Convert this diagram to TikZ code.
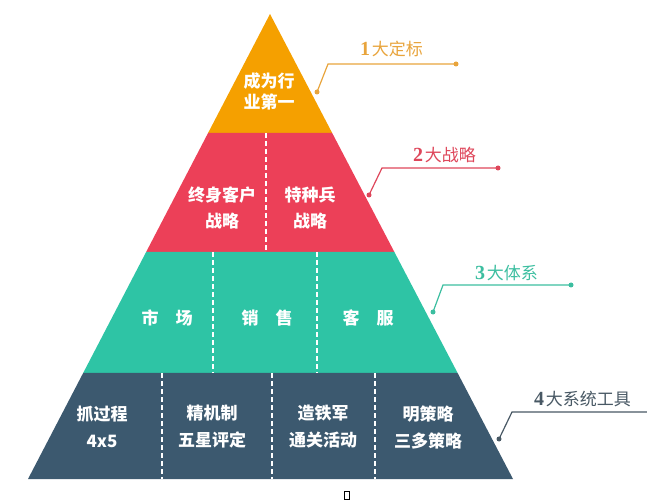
\documentclass[tikz,border=0pt]{standalone}
\usepackage{fontspec}
\setmainfont{Liberation Serif}
\newfontfamily\cjk{Noto Sans CJK SC}
\newfontfamily\lserif{Liberation Serif}
\usetikzlibrary{calc}
\definecolor{cOrange}{RGB}{245,160,0}
\definecolor{cRed}{RGB}{236,64,88}
\definecolor{cTeal}{RGB}{46,196,165}
\definecolor{cDark}{RGB}{60,89,111}
\definecolor{lOrange}{RGB}{232,164,60}
\definecolor{lRed}{RGB}{222,70,90}
\definecolor{lTeal}{RGB}{60,190,160}
\definecolor{lDark}{RGB}{72,88,100}
\tikzset{
  tiertext/.style={text=white, align=center, inner sep=0pt},
  divider/.style={white, line width=1.2pt, dash pattern=on 5pt off 3pt},
  leader/.style={line width=1.2pt},
  leaderdot/.style={circle, fill, inner sep=0pt, minimum size=5pt},
  lbl/.style={anchor=west, inner sep=0pt},
}
\newcommand{\lbltext}[2]{{\lserif\bfseries\fontsize{20}{20}\selectfont #1}\,{\cjk\fontsize{17}{17}\selectfont #2}}
\begin{document}
\begin{tikzpicture}[x=1pt,y=-1pt]
\useasboundingbox (0,0) rectangle (647,502);
\coordinate (apex) at (270,14);
\coordinate (bl) at (28,479);
\coordinate (br) at (513,479);
\coordinate (l1) at ($(apex)!0.2559!(bl)$);
\coordinate (r1) at ($(apex)!0.2559!(br)$);
\coordinate (l2) at ($(apex)!0.5118!(bl)$);
\coordinate (r2) at ($(apex)!0.5118!(br)$);
\coordinate (l3) at ($(apex)!0.7720!(bl)$);
\coordinate (r3) at ($(apex)!0.7720!(br)$);
% tiers
\fill[cOrange] (apex) -- (r1) -- (l1) -- cycle;
\fill[cRed] (l1) -- (r1) -- (r2) -- (l2) -- cycle;
\fill[cTeal] (l2) -- (r2) -- (r3) -- (l3) -- cycle;
\fill[cDark] (l3) -- (r3) -- (br) -- (bl) -- cycle;
% dividers
\draw[divider] (266,133) -- (266,252);
\draw[divider] (213,252) -- (213,373);
\draw[divider] (317,252) -- (317,373);
\draw[divider] (162,373) -- (162,479);
\draw[divider] (272,373) -- (272,479);
\draw[divider] (375,373) -- (375,479);
% tier texts
\begin{scope}[every node/.style={tiertext}]
\node[font=\cjk\bfseries\fontsize{17}{21}\selectfont] (t1) at (269,91) {成为行\\业第一};
\node[font=\cjk\bfseries\fontsize{17}{26}\selectfont] (t2a) at (222,208) {终身客户\\战略};
\node[font=\cjk\bfseries\fontsize{17}{26}\selectfont] (t2b) at (310,208) {特种兵\\战略};
\node[font=\cjk\bfseries\fontsize{17}{17}\selectfont] (t3a) at (167,318) {市\hspace{1em}场};
\node[font=\cjk\bfseries\fontsize{17}{17}\selectfont] (t3b) at (267,318) {销\hspace{1em}售};
\node[font=\cjk\bfseries\fontsize{17}{17}\selectfont] (t3c) at (368,318) {客\hspace{1em}服};
\node[font=\cjk\bfseries\fontsize{17}{27}\selectfont] (t4a) at (102,427) {抓过程\\4x5};
\node[font=\cjk\bfseries\fontsize{17}{27}\selectfont] (t4b) at (212,427) {精机制\\五星评定};
\node[font=\cjk\bfseries\fontsize{17}{27}\selectfont] (t4c) at (323,427) {造铁军\\通关活动};
\node[font=\cjk\bfseries\fontsize{17}{27}\selectfont] (t4d) at (428,427) {明策略\\三多策略};
\end{scope}
% labels
\node[lbl, text=lOrange] (lab1) at (360,49) {\lbltext{1}{大定标}};
\node[lbl, text=lRed] (lab2) at (413,155) {\lbltext{2}{大战略}};
\node[lbl, text=lTeal] (lab3) at (475,273) {\lbltext{3}{大体系}};
\node[lbl, text=lDark] (lab4) at (534,399) {\lbltext{4}{大系统工具}};
% leaders
\coordinate (d1a) at (317,92); \coordinate (e1) at (328,64); \coordinate (d1b) at (456,64);
\coordinate (d2a) at (369,195); \coordinate (e2) at (382,168); \coordinate (d2b) at (498,168);
\coordinate (d3a) at (433,312); \coordinate (e3) at (443,285); \coordinate (d3b) at (571,285);
\coordinate (d4a) at (499,439); \coordinate (e4) at (512,412); \coordinate (d4b) at (647,412);
\draw[leader, lOrange] (d1a) -- (e1) -- (d1b);
\node[leaderdot, fill=lOrange] (p1a) at (d1a) {};
\node[leaderdot, fill=lOrange] (p1b) at (d1b) {};
\draw[leader, lRed] (d2a) -- (e2) -- (d2b);
\node[leaderdot, fill=lRed] (p2a) at (d2a) {};
\node[leaderdot, fill=lRed] (p2b) at (d2b) {};
\draw[leader, lTeal] (d3a) -- (e3) -- (d3b);
\node[leaderdot, fill=lTeal] (p3a) at (d3a) {};
\node[leaderdot, fill=lTeal] (p3b) at (d3b) {};
\draw[leader, lDark] (d4a) -- (e4) -- (d4b);
\node[leaderdot, fill=lDark] (p4a) at (d4a) {};
% small box at bottom
\draw[black, line width=0.8pt] (344.5,491) rectangle (349,499);
\end{tikzpicture}
\end{document}
